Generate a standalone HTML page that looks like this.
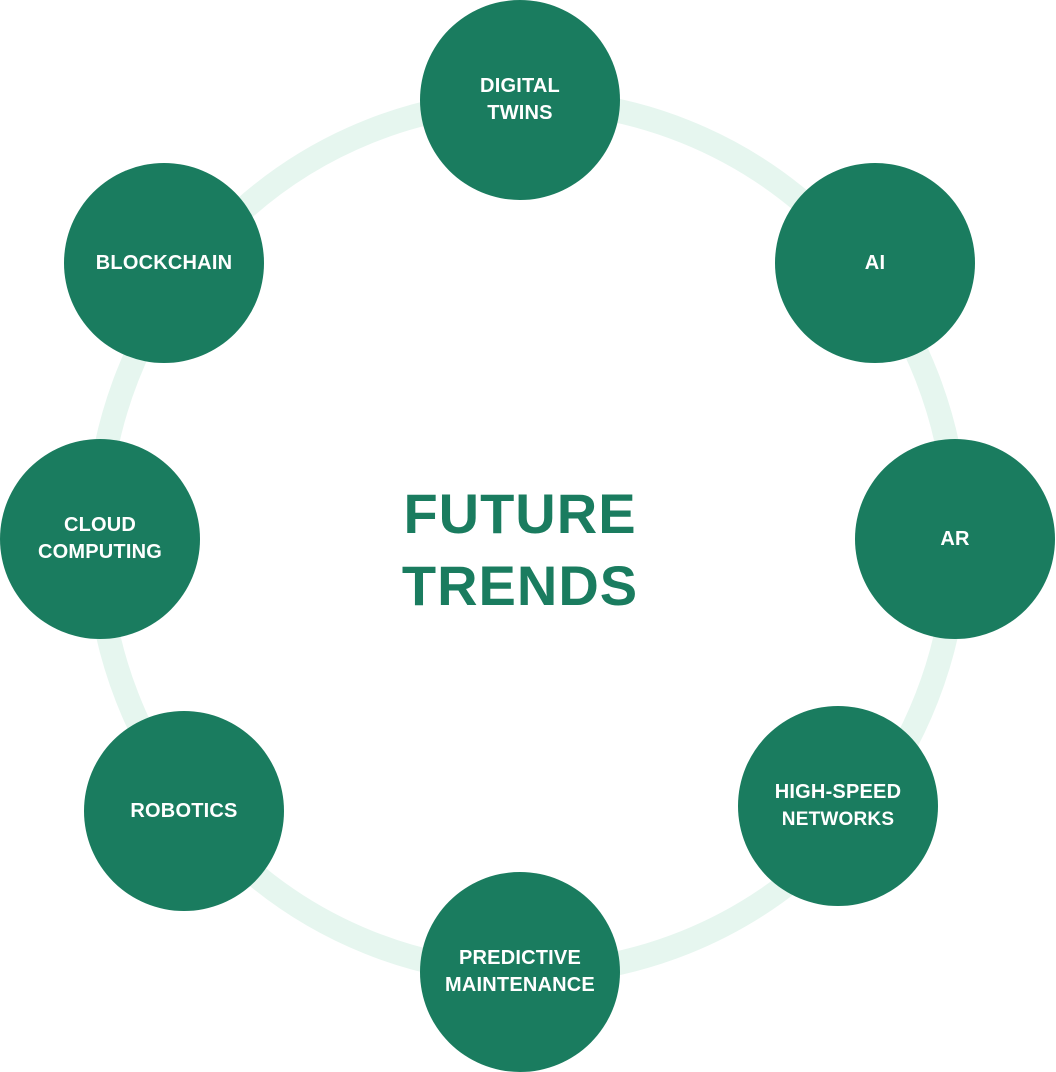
<!DOCTYPE html>
<html><head><style>
html,body{margin:0;padding:0;background:#fff;}
body{width:1056px;height:1072px;position:relative;overflow:hidden;font-family:"Liberation Sans",sans-serif;}
.c{position:absolute;width:200px;height:200px;border-radius:50%;background:#1a7c5f;color:#fff;display:flex;align-items:center;justify-content:center;text-align:center;font-weight:bold;font-size:20px;line-height:27px;letter-spacing:0.2px;}
.c div{display:block;}
.t{position:absolute;left:320px;top:478px;width:400px;text-align:center;color:#1a7c5f;font-weight:bold;font-size:56px;line-height:72px;letter-spacing:1px;}
</style></head><body>
<svg width="1056" height="1072" style="position:absolute;left:0;top:0">
<ellipse cx="527" cy="537" rx="430" ry="436" fill="none" stroke="#e6f6ef" stroke-width="24"/>
</svg>
<div class="c" style="left:420px;top:0px"><div>DIGITAL<br>TWINS</div></div>
<div class="c" style="left:775px;top:163px"><div>AI</div></div>
<div class="c" style="left:855px;top:439px"><div>AR</div></div>
<div class="c" style="left:738px;top:706px"><div>HIGH-SPEED<br><span style="font-size:19px">NETWORKS</span></div></div>
<div class="c" style="left:420px;top:872px"><div>PREDICTIVE<br>MAINTENANCE</div></div>
<div class="c" style="left:84px;top:711px"><div>ROBOTICS</div></div>
<div class="c" style="left:0px;top:439px"><div>CLOUD<br>COMPUTING</div></div>
<div class="c" style="left:64px;top:163px"><div>BLOCKCHAIN</div></div>
<div class="t">FUTURE<br>TRENDS</div>
</body></html>
